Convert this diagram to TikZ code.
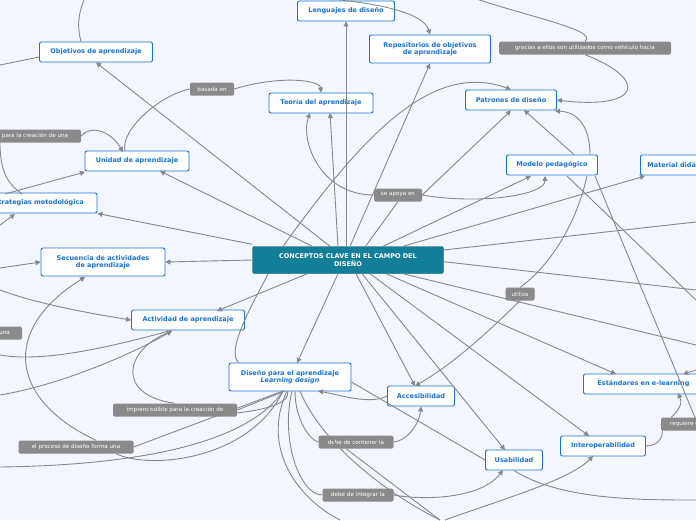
\documentclass[tikz,border=0pt]{standalone}
\usepackage{fontspec}
\setmainfont{DejaVu Sans}
\usetikzlibrary{arrows.meta}
\definecolor{bg}{HTML}{F3F6FD}
\definecolor{tb}{HTML}{1A73D9}
\definecolor{ln}{HTML}{85888F}
\definecolor{teal1}{HTML}{137E98}
\definecolor{lab}{HTML}{8A8A8A}
\begin{document}
\begin{tikzpicture}[x=1pt,y=-1pt,
 topic/.style={draw=tb,line width=0.9pt,fill=white,rounded corners=2pt,font=\fontsize{6.5}{7.5}\selectfont\bfseries,text=tb,align=center,inner sep=0pt,minimum height=20pt},
 lbl/.style={fill=lab,rounded corners=1.5pt,font=\fontsize{5.6}{6.5}\selectfont,text=white,inner sep=0pt,minimum height=13pt},
 con/.style={draw=ln,line width=0.9pt},
 arr/.style={con,-{Triangle[length=5pt,width=5pt]}}]
\fill[bg] (0,0) rectangle (696,520);
\useasboundingbox (0,0) rectangle (696,520);
% nodes
\node[draw=teal1!70!black,fill=teal1,rounded corners=2pt,minimum width=191pt,minimum height=27pt,font=\fontsize{6.5}{7.5}\selectfont\bfseries,text=white,align=center,inner sep=0pt] (c) at (348,260) {CONCEPTOS CLAVE EN EL CAMPO DEL\\DISEÑO};
\node[topic,minimum width=97pt] (len) at (346,11) {Lenguajes de diseño};
\node[topic,minimum width=121pt,minimum height=28pt] (rep) at (430,49) {Repositorios de objetivos\\de aprendizaje};
\node[lbl,minimum width=172pt] (gra) at (585,48) {gracias a ellos son utilizados como vehículo hacia};
\node[topic,minimum width=113pt] (obj) at (96,52) {Objetivos de aprendizaje};
\node[lbl,minimum width=44pt] (bas) at (212,89) {basada en};
\node[topic,minimum width=104pt] (teo) at (321,103) {Teoría del aprendizaje};
\node[topic,minimum width=91pt] (pat) at (511,100) {Patrones de diseño};
\node[lbl,minimum width=92pt] (pcu) at (35,136) {para la creación de una};
\node[topic,minimum width=104pt] (uni) at (137,161) {Unidad de aprendizaje};
\node[topic,minimum width=91pt] (mod) at (552,165) {Modelo pedagógico};
\node[topic,minimum width=80pt,anchor=west] (mat) at (640,165) {Material didáctico};
\node[lbl,minimum width=48pt] (apo) at (398,195) {se apoya en};
\node[topic,minimum width=120pt] (est) at (37,203) {Estrategias metodológica};
\node[topic,minimum width=124pt,minimum height=28pt] (sec) at (103,262) {Secuencia de actividades\\de aprendizaje};
\node[lbl,minimum width=29pt] (uti) at (520,294) {utiliza};
\node[lbl,minimum width=40pt] (una) at (2,333) {a una};
\node[topic,minimum width=113pt] (act) at (188,320) {Actividad de aprendizaje};
\node[topic,minimum width=122pt,minimum height=28pt] (dis) at (290,377) {Diseño para el aprendizaje\\\itshape Learning design};
\node[topic,minimum width=67pt] (acc) at (421,396) {Accesibilidad};
\node[topic,minimum width=120pt,anchor=west] (eel) at (583,384) {Estándares en e-learning};
\node[lbl,minimum width=124pt] (imp) at (175,410) {imprencisdible para la creación de};
\node[lbl,minimum width=50pt,anchor=west] (req) at (661,424) {requiere de};
\node[lbl,minimum width=75pt] (dcl) at (356,442) {debe de contener la};
\node[topic,minimum width=85pt] (int) at (603,446) {Interoperabilidad};
\node[lbl,minimum width=115pt] (pro) at (76,447) {el proceso de diseño forma una};
\node[topic,minimum width=57pt] (usa) at (514,460) {Usabilidad};
\node[lbl,minimum width=71pt] (dil) at (358,495) {debe de integrar la};
% off-frame coordinates
\coordinate (t1) at (250,-5); \coordinate (t2) at (465,-5);
% straight from center
\draw[arr] (c.north) ++(-2,0) -- (len.south);
\draw[arr] (c.north) ++(2,0) -- (rep.south);
\draw[arr] (c.north) ++(-10,0) -- (330,113);
\draw[arr] (c.north) ++(-18,0) -- (obj.south);
\draw[arr] (c.north west) ++(60,0) -- (160,171);
\draw[arr] (c.north west) ++(0,-2) -- (est.south east);
\draw[arr] (c.west) -- (sec.east);
\draw[arr] (c.south west) ++(55,0) -- (217,311);
\draw[arr] (c.south) ++(-10,0) -- (297,363);
\draw[arr] (c.south) ++(8,0) -- (415,386);
\draw[arr] (c.south) ++(14,0) -- (505,450);
\draw[arr] (c.south) ++(22,0) -- (589,436);
\draw[arr] (c.south) ++(38,0) -- (616,374);
\draw[arr] (c.north) ++(35,0) -- (531,176);
\draw[arr] (c.north) ++(55,0) -- (645,176);
\draw[con] (c.east) ++(0,-10) -- (696,222);
\draw[con] (c.south east) ++(0,-12) -- (696,290);
\draw[con] (c.south) ++(55,0) -- (696,345);
% top area curves
\draw[arr] (c.north) ++(-65,0) .. controls (360,140) and (430,60) .. (pat.north);
\draw[con] (obj.north) ++(-15,0) .. controls (75,20) and (82,5) .. (86,-5);
\draw[arr] (t1) .. controls (290,-5) and (420,0) .. (rep.north);
\draw[con] (t2) .. controls (520,15) and (600,30) .. (gra.north);
\draw[arr] (gra.south) .. controls (650,80) and (640,110) .. (pat.east);
\draw[con] (obj.west) ++(0,5) -- (0,65);
\draw[con] (uni.north) ++(-12,0) .. controls (120,130) and (160,95) .. (bas.west);
\draw[arr] (bas.east) .. controls (280,75) and (320,80) .. (teo.north);
\draw[arr] (apo.west) .. controls (320,195) and (300,140) .. (310,113);
\draw[arr] (apo.east) .. controls (480,205) and (545,195) .. (545,176);
\draw[arr] (apo.east) -- (pat.south);
\draw[con] (apo.south) -- (365,247);
\draw[arr] (mod.north) ++(22,0) -- (524,110);
\draw[arr] (mod.north) ++(38,0) .. controls (590,130) and (580,112) .. (555,111);
\draw[con] (587,176) .. controls (575,230) and (545,270) .. (uti.north);
\draw[arr] (uti.south) .. controls (500,320) and (460,360) .. (415,386);
\draw[con] (567,176) -- (696,300);
\draw[con] (595,176) -- (696,420);
% left area
\draw[arr] (pcu.east) .. controls (90,125) and (110,130) .. (123,152);
\draw[con] (pcu.south) ++(-35,0) .. controls (0,175) and (10,185) .. (22,194);
\draw[arr] (0,225) -- (15,214);
\draw[arr] (5,194) -- (85,172);
\draw[arr] (0,268) -- (sec.west);
\draw[arr] (0,290) .. controls (40,305) and (100,315) .. (act.west);
\draw[con] (act.south) ++(-17,0) .. controls (100,350) and (40,362) .. (0,355);
\draw[arr] (0,395) .. controls (60,385) and (130,355) .. (172,331);
\draw[arr] (imp.north) .. controls (115,395) and (125,350) .. (172,331);
\draw[con] (imp.east) -- (285,391);
\draw[con] (imp.east) ++(0,3) .. controls (260,410) and (290,405) .. (288,391);
\draw[arr] (pro.north) ++(20,0) .. controls (10,400) and (0,330) .. (85,277);
\draw[con] (pro.east) -- (283,391);
\draw[con] (0,467) .. controls (150,465) and (250,440) .. (283,391);
\draw[con] (pro.south) ++(40,0) .. controls (150,470) and (250,460) .. (283,391);
\draw[con] (dis.north west) ++(10,0) .. controls (225,350) and (255,300) .. (268,274);
% bottom area
\draw[con] (295,391) .. controls (295,420) and (310,440) .. (dcl.west);
\draw[arr] (dcl.east) .. controls (410,440) and (420,420) .. (acc.south);
\draw[con] (292,391) .. controls (280,440) and (300,495) .. (dil.west);
\draw[arr] (dil.east) .. controls (420,500) and (480,500) .. (503,470);
\draw[con] (287,391) .. controls (260,450) and (300,500) .. (340,520);
\draw[con] (300,391) .. controls (320,440) and (380,490) .. (440,520);
\draw[arr] (acc.west) .. controls (370,405) and (340,395) .. (318,391);
\draw[con] (dis.east) ++(0,5) -- (usa.west);
\draw[con] (usa.south) .. controls (560,500) and (640,500) .. (696,500);
\draw[con] (dcl.south) ++(-10,0) -- (440,520);
\draw[arr] (445,520) .. controls (500,500) and (570,480) .. (593,456);
\draw[con] (int.east) .. controls (660,446) and (665,435) .. (req.west);
\draw[arr] (req.north) ++(-15,0) .. controls (685,405) and (680,398) .. (678,393);
\draw[arr] (696,370) -- (683,374);
\end{tikzpicture}
\end{document}
